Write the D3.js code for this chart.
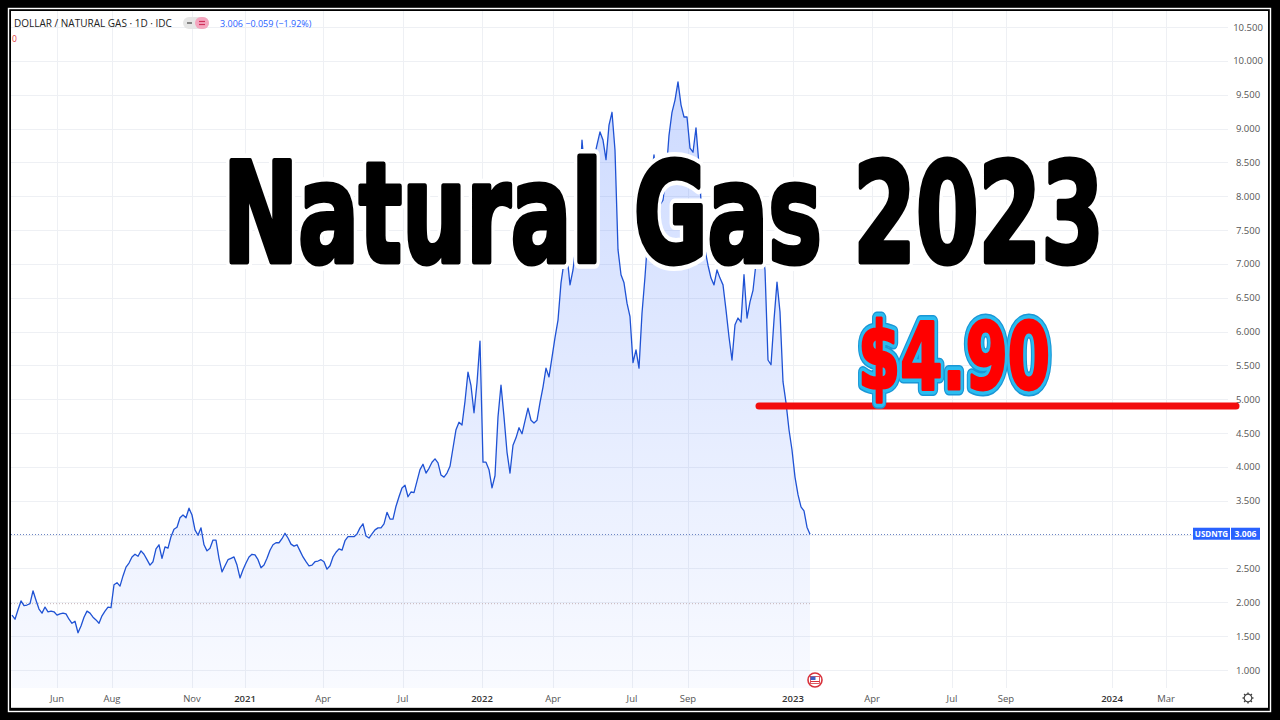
<!DOCTYPE html>
<html><head><meta charset="utf-8">
<script src="https://cdn.jsdelivr.net/npm/d3@7"></script>
<style>html,body{margin:0;padding:0;background:#000;} svg{display:block;}</style>
</head><body>
<svg id="c" width="1280" height="720"></svg>
<script>
// ---- data ----
const priceValues = [
1.81,1.75,1.89,2.02,1.95,1.96,1.98,2.17,2.03,1.90,
1.84,1.93,1.86,1.87,1.86,1.81,1.83,1.84,1.83,1.75,
1.69,1.72,1.55,1.65,1.78,1.87,1.84,1.78,1.74,1.69,
1.80,1.87,1.93,1.92,2.26,2.29,2.24,2.39,2.52,2.58,
2.67,2.71,2.68,2.76,2.71,2.63,2.55,2.60,2.79,2.85,
2.65,2.82,2.80,2.97,3.08,3.11,3.25,3.29,3.25,3.39,
3.29,3.07,2.99,3.10,2.85,2.76,2.80,2.92,2.92,2.65,
2.45,2.54,2.63,2.65,2.67,2.55,2.36,2.48,2.58,2.67,
2.71,2.70,2.63,2.51,2.55,2.65,2.77,2.85,2.88,2.88,
2.94,3.02,2.95,2.86,2.83,2.85,2.76,2.67,2.60,2.54,
2.55,2.60,2.61,2.63,2.60,2.49,2.54,2.67,2.74,2.79,
2.77,2.91,2.97,2.97,2.97,3.01,3.10,3.16,2.98,2.95,
3.01,3.07,3.10,3.10,3.16,3.33,3.23,3.23,3.42,3.56,
3.69,3.73,3.56,3.63,3.62,3.79,3.96,4.04,3.91,3.98,
4.07,4.12,4.06,3.88,3.85,3.91,4.01,4.28,4.55,4.66,
4.62,4.97,5.40,5.20,4.80,5.24,5.86,4.07,4.07,3.96,
3.69,3.87,4.74,5.21,4.74,4.22,3.91,4.32,4.43,4.58,
4.49,4.68,4.87,4.69,4.65,4.69,4.95,5.18,5.46,5.33,
5.62,5.91,6.17,6.72,7.03,7.13,6.69,6.91,7.28,7.94,
8.83,8.31,8.02,8.31,8.56,8.76,8.95,8.83,8.54,9.05,
9.24,8.68,7.21,6.84,6.72,6.42,6.22,5.54,5.73,5.46,
6.27,6.81,7.43,8.24,8.61,8.17,7.87,7.94,8.31,8.90,
9.24,9.42,9.69,9.35,9.17,9.17,8.71,8.65,9.01,8.46,
7.65,7.21,6.98,6.79,6.69,6.91,6.79,6.69,6.32,5.92,
5.58,6.10,6.20,6.14,6.84,6.20,6.44,6.61,7.01,7.13,
7.25,6.91,5.58,5.51,6.17,6.73,6.29,5.26,4.95,4.55,
4.25,3.85,3.59,3.41,3.35,3.11,3.006
];
const timeTickLabels = ["Jun","Aug","Nov","2021","Apr","Jul","2022","Apr","Jul","Sep","2023","Apr","Jul","Sep","2024","Mar"];
const timeTickBars = [15,33.33,60,77.67,103.67,130.33,156.67,180.33,206.67,225.33,260.33,286.67,313.33,331.33,366.67,384.67];
const priceTicks = [1.0,1.5,2.0,2.5,3.0,3.5,4.0,4.5,5.0,5.5,6.0,6.5,7.0,7.5,8.0,8.5,9.0,9.5,10.0,10.5];
const lastPrice = 3.006;
const priceChange = -0.059;
const priceChangePct = -1.92;
const baseLevel = 1.98;
const targetPrice = 4.90;
const symbolName = "USDNTG";
const headerTitle = "DOLLAR / NATURAL GAS · 1D · IDC";
const bigTitle = "Natural Gas 2023";
const targetLabel = "$4.90";

// ---- layout ----
const svg = d3.select("#c");
const W = 1280, H = 720;
const pane = {l: 11, r: 1228, t: 11, b: 688};

const x = d3.scaleLinear().domain([0, priceValues.length - 1]).range([12, 810]);
const y = d3.scaleLinear().domain([1, 10.5]).range([670, 27]);

// frame
svg.append("rect").attr("width", W).attr("height", H).attr("fill", "#000");
svg.append("rect").attr("x", 8.5).attr("y", 8.5).attr("width", 1262).attr("height", 703)
  .attr("fill", "none").attr("stroke", "#fff").attr("stroke-width", 1.4);
svg.append("rect").attr("x", 11).attr("y", 11).attr("width", 1257).attr("height", 697).attr("fill", "#fff");
svg.append("line").attr("x1", 11).attr("x2", 1268).attr("y1", 707.5).attr("y2", 707.5).attr("stroke", "#cfcfcf");

// grid
const grid = svg.append("g");
grid.selectAll("line.h").data(priceTicks).join("line")
  .attr("x1", pane.l).attr("x2", pane.r)
  .attr("y1", d => Math.round(y(d)) + 0.5).attr("y2", d => Math.round(y(d)) + 0.5)
  .attr("stroke", "#eef0f4");
grid.selectAll("line.v").data(timeTickBars).join("line")
  .attr("x1", d => Math.round(x(d)) + 0.5).attr("x2", d => Math.round(x(d)) + 0.5)
  .attr("y1", pane.t).attr("y2", pane.b)
  .attr("stroke", "#eef0f4");

// gradient area
const defs = svg.append("defs");
const grad = defs.append("linearGradient").attr("id", "ag")
  .attr("gradientUnits", "userSpaceOnUse").attr("x1", 0).attr("x2", 0).attr("y1", 60).attr("y2", pane.b);
grad.append("stop").attr("offset", 0).attr("stop-color", "rgb(41,98,255)").attr("stop-opacity", 0.24);
grad.append("stop").attr("offset", 1).attr("stop-color", "rgb(41,98,255)").attr("stop-opacity", 0.03);

const area = d3.area().x((d, i) => x(i)).y0(pane.b).y1(d => y(d));
svg.append("path").datum(priceValues).attr("d", area).attr("fill", "url(#ag)");

// dotted levels
svg.append("line").attr("x1", pane.l).attr("x2", x(priceValues.length - 1))
  .attr("y1", y(baseLevel)).attr("y2", y(baseLevel))
  .attr("stroke", "#c7b4b8").attr("stroke-dasharray", "1,2");
svg.append("line").attr("x1", pane.l).attr("x2", 1193)
  .attr("y1", Math.round(y(lastPrice)) + 0.5).attr("y2", Math.round(y(lastPrice)) + 0.5)
  .attr("stroke", "#6d86c4").attr("stroke-dasharray", "1,2");

// price line
const line = d3.line().x((d, i) => x(i)).y(d => y(d));
svg.append("path").datum(priceValues).attr("d", line)
  .attr("fill", "none").attr("stroke", "#1f52d4").attr("stroke-width", 1.3).attr("stroke-linejoin", "round");

// price axis labels (the one under the last-price badge is hidden, as in the reference)
svg.append("g").selectAll("text")
  .data(priceTicks.filter(d => Math.abs(y(d) - y(lastPrice)) > 10)).join("text")
  .attr("x", 1248).attr("y", d => y(d) + 3.5)
  .attr("text-anchor", "middle").attr("font-family", "'Open Sans', 'Noto Sans', sans-serif")
  .attr("font-size", 9.5).attr("fill", "#555")
  .text(d => d3.format(".3f")(d));

// time axis labels
svg.append("g").selectAll("text").data(timeTickBars).join("text")
  .attr("x", d => x(d)).attr("y", 702)
  .attr("text-anchor", "middle").attr("font-family", "'Open Sans', 'Noto Sans', sans-serif")
  .attr("font-size", 9.5)
  .attr("font-weight", (d, i) => /^\d{4}$/.test(timeTickLabels[i]) ? 600 : 400)
  .attr("fill", (d, i) => /^\d{4}$/.test(timeTickLabels[i]) ? "#333" : "#555")
  .text((d, i) => timeTickLabels[i]);

// last price badge
const by = y(lastPrice);
svg.append("rect").attr("x", 1193).attr("y", by - 6.5).attr("width", 37).attr("height", 12).attr("fill", "#2962ff");
svg.append("rect").attr("x", 1231).attr("y", by - 6.5).attr("width", 29).attr("height", 12).attr("fill", "#2962ff");
svg.append("text").attr("x", 1211.5).attr("y", by + 3).attr("text-anchor", "middle")
  .attr("font-family", "'Open Sans', sans-serif").attr("font-size", 8).attr("font-weight", 700).attr("fill", "#fff").text(symbolName);
svg.append("text").attr("x", 1245.5).attr("y", by + 3).attr("text-anchor", "middle")
  .attr("font-family", "'Open Sans', sans-serif").attr("font-size", 8.5).attr("font-weight", 700).attr("fill", "#fff").text(lastPrice.toFixed(3));

// header
svg.append("text").attr("x", 14).attr("y", 27).attr("font-family", "'Open Sans', 'Noto Sans', sans-serif")
  .attr("font-size", 10).attr("fill", "#222").text(headerTitle);
svg.append("rect").attr("x", 183).attr("y", 17).attr("width", 26).attr("height", 12).attr("rx", 6).attr("fill", "#e6e6e6");
svg.append("rect").attr("x", 195).attr("y", 17).attr("width", 14).attr("height", 12).attr("rx", 6).attr("fill", "#f4a6bf");
svg.append("line").attr("x1", 187).attr("x2", 192).attr("y1", 23).attr("y2", 23).attr("stroke", "#666").attr("stroke-width", 1.5);
svg.append("line").attr("x1", 199).attr("x2", 205).attr("y1", 21.5).attr("y2", 21.5).attr("stroke", "#d0305a").attr("stroke-width", 1.2);
svg.append("line").attr("x1", 199).attr("x2", 205).attr("y1", 24.5).attr("y2", 24.5).attr("stroke", "#d0305a").attr("stroke-width", 1.2);
const fmt = d3.format(".3f");
svg.append("text").attr("x", 220).attr("y", 27).attr("font-family", "'Open Sans', 'Noto Sans', sans-serif")
  .attr("font-size", 9).attr("fill", "#2962ff")
  .text(`${fmt(lastPrice)} ${fmt(priceChange).replace("-", "\u2212")} (${d3.format(".2f")(priceChangePct).replace("-", "\u2212")}%)`);
svg.append("text").attr("x", 12).attr("y", 42).attr("font-family", "'Open Sans', sans-serif")
  .attr("font-size", 8.5).attr("fill", "#e04040").text("0");

// US flag marker
const fg = svg.append("g").attr("transform", "translate(815,680)");
fg.append("circle").attr("r", 7).attr("fill", "#fff").attr("stroke", "#d8323c").attr("stroke-width", 1.6);
fg.append("rect").attr("x", -4.5).attr("y", -3.5).attr("width", 9).attr("height", 7).attr("fill", "#fff").attr("stroke", "#d8323c").attr("stroke-width", 0.8);
fg.append("rect").attr("x", -4.5).attr("y", -3.5).attr("width", 5).attr("height", 3.5).attr("fill", "#3d5fc4");
fg.append("line").attr("x1", -4.5).attr("x2", 4.5).attr("y1", 1.5).attr("y2", 1.5).attr("stroke", "#d8323c").attr("stroke-width", 1);

// gear icon
const gg = svg.append("g").attr("transform", "translate(1248,698)");
d3.range(8).forEach(k => {
  const a = k * Math.PI / 4;
  gg.append("line").attr("x1", Math.cos(a) * 3.5).attr("y1", Math.sin(a) * 3.5)
    .attr("x2", Math.cos(a) * 5.5).attr("y2", Math.sin(a) * 5.5).attr("stroke", "#444").attr("stroke-width", 1.4);
});
gg.append("circle").attr("r", 3.8).attr("fill", "#fff").attr("stroke", "#444").attr("stroke-width", 1.2);

// helper: draw text layers squeezed horizontally to a target width via transform
const titleFont = "'Liberation Sans Narrow', 'DejaVu Sans Condensed', 'Liberation Sans', sans-serif";
function fitText(str, x0, y0, size, width, layers) {
  const g = svg.append("g");
  const probe = g.append("text").attr("font-family", titleFont).attr("font-weight", 700)
    .attr("font-size", size).text(str);
  const natural = probe.node().getComputedTextLength();
  probe.remove();
  const k = width / natural;
  g.attr("transform", `translate(${x0},${y0}) scale(${k},1)`);
  layers.forEach(([sw, col]) => {
    g.append("text").attr("x", 0).attr("y", 0)
      .attr("font-family", titleFont).attr("font-weight", 700).attr("font-size", size)
      .attr("fill", col).attr("stroke", col).attr("stroke-width", sw).attr("stroke-linejoin", "round")
      .text(str);
  });
  return g;
}

// big title
fitText(bigTitle, 223, 262, 139, 881, [[14, "#fff"], [5, "#000"]]);

// target level line & label
const ty = y(targetPrice);
svg.append("line").attr("x1", 759).attr("x2", 1236).attr("y1", ty).attr("y2", ty)
  .attr("stroke", "#f20d0d").attr("stroke-width", 7).attr("stroke-linecap", "round");
fitText(targetLabel, 858, 389, 92, 192, [[13, "#1a97d6"], [10, "#2bbcef"], [3, "#ff0000"]]);
</script>
</body></html>
